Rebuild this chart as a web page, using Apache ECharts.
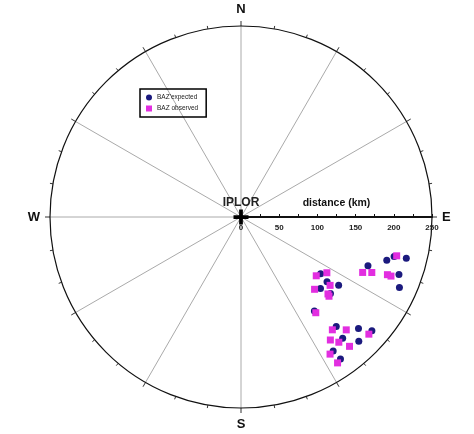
<!DOCTYPE html>
<html>
<head>
<meta charset="utf-8">
<script src="https://cdn.jsdelivr.net/npm/echarts@6/dist/echarts.min.js"></script>
<style>
  html, body { margin: 0; padding: 0; background: #fff; }
  #chart { width: 474px; height: 434px; }
</style>
</head>
<body>
<div id="chart"></div>
<script>
// distances in km, back azimuth in degrees (clockwise from N)
const expectedDist = [223, 199, 207, 178, 220, 227, 128, 141, 156, 140, 154, 156, 190, 212, 227, 207, 224, 213, 227];
const expectedAz   = [104, 106.5, 104.5, 111, 110, 114, 125.5, 127, 125, 132, 130.5, 142, 139, 133.5, 131, 140, 136.5, 145.5, 145];
const observedDist = [210, 175, 186, 206, 211, 134, 125, 147, 135, 152, 155, 159, 190, 202, 227, 199, 208, 221, 214, 229];
const observedAz   = [104, 114.5, 113, 111.5, 111.5, 123, 128, 127.5, 134.5, 131.5, 132, 142, 141, 137, 132.5, 144, 142, 140, 147, 146.5];
const compassLabels = { 90: 'E', 180: 'S', 270: 'W', 360: 'N' };
const stationName = 'IPLOR';

const chart = echarts.init(document.getElementById('chart'));

const option = {
    backgroundColor: '#fff',
    animation: false,
    legend: {
        orient: 'vertical',
        left: 140,
        top: 89,
        itemWidth: 6,
        itemHeight: 6,
        itemGap: 4,
        padding: [5, 8, 5, 6],
        borderColor: '#000',
        borderWidth: 1.5,
        textStyle: { fontSize: 6.5, color: '#222', fontFamily: 'Liberation Sans' },
        data: [
            { name: "BAZ'expected", icon: 'circle' },
            { name: 'BAZ observed', icon: 'rect' }
        ]
    },
    polar: {
        center: [241, 217],
        radius: 191
    },
    angleAxis: {
        type: 'value',
        min: 90,
        max: 450,
        interval: 30,
        startAngle: 0,
        clockwise: true,
        axisLine: { lineStyle: { color: '#111', width: 1.2 } },
        axisTick: { show: true, length: 5, lineStyle: { color: '#333' } },
        minorTick: { show: true, splitNumber: 3, length: 3, lineStyle: { color: '#333' } },
        splitLine: { show: true, lineStyle: { color: '#aaa', width: 1 } },
        axisLabel: {
            margin: 10,
            fontSize: 13,
            fontWeight: 'bold',
            color: '#111',
            fontFamily: 'Liberation Sans',
            formatter: v => compassLabels[v] || ''
        }
    },
    radiusAxis: {
        type: 'value',
        min: 0,
        max: 250,
        interval: 25,
        name: 'distance (km)',
        nameLocation: 'middle',
        nameGap: -19,
        nameTextStyle: { fontSize: 10.5, fontWeight: 'bold', color: '#111', fontFamily: 'Liberation Sans' },
        axisLine: { lineStyle: { color: '#111', width: 2 } },
        axisTick: { show: true, length: 3, lineStyle: { color: '#111' } },
        splitLine: { show: false },
        axisLabel: {
            margin: -15,
            fontSize: 8,
            fontWeight: 'bold',
            color: '#222',
            fontFamily: 'Liberation Sans',
            formatter: v => (v % 50 === 0 ? String(v) : '')
        },
        z: 5
    },
    series: [
        {
            name: "BAZ'expected",
            type: 'scatter',
            coordinateSystem: 'polar',
            symbol: 'circle',
            symbolSize: 7,
            itemStyle: { color: '#1b1a7e', opacity: 1 },
            data: expectedDist.map((d, i) => [d, expectedAz[i]])
        },
        {
            name: 'BAZ observed',
            type: 'scatter',
            coordinateSystem: 'polar',
            symbol: 'rect',
            symbolSize: 7,
            itemStyle: { color: '#e22ee0', opacity: 1 },
            data: observedDist.map((d, i) => [d, observedAz[i]])
        },
        {
            name: 'station',
            type: 'scatter',
            coordinateSystem: 'polar',
            symbol: 'path://M-1.5,-6 h3 v4.5 h4.5 v3 h-4.5 v4.5 h-3 v-4.5 h-4.5 v-3 h4.5 z',
            symbolSize: 15,
            itemStyle: { color: '#000', opacity: 1 },
            label: {
                show: true,
                formatter: stationName,
                position: 'top',
                distance: 1,
                fontSize: 12,
                fontWeight: 'bold',
                color: '#222',
                fontFamily: 'Liberation Sans'
            },
            z: 10,
            data: [[0, 90]]
        }
    ]
};

chart.setOption(option);
</script>
</body>
</html>
